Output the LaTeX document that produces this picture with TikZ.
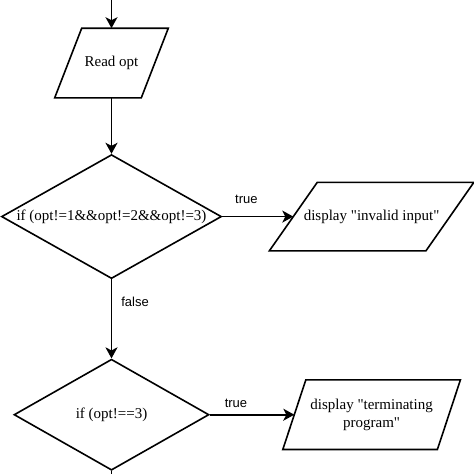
\documentclass[tikz,border=0pt]{standalone}
\usepackage{fontspec}
\setmainfont{Liberation Serif}[Ligatures=TeXOff]
\newfontfamily\lblfont{Liberation Sans}
\usetikzlibrary{arrows.meta,positioning,shapes.geometric}
\newcommand{\ioframe}[2]{\draw ([xshift=-#2/2]#1.south west) -- ([xshift=#2/2]#1.north west) -- ([xshift=#2/2]#1.north east) -- ([xshift=-#2/2]#1.south east) -- cycle;}

\begin{document}
\begin{tikzpicture}[x=1pt, y=1pt, line width=1.6pt]
\tikzset{io/.style={align=center, inner sep=0pt, font=\fontsize{15}{18}\selectfont},
  decision/.style={draw, diamond, aspect=1.77, inner sep=0pt, font=\fontsize{15}{18}\selectfont},
  flow/.style={-{Stealth[length=11pt, width=12pt, inset=3pt]}},
  lbl/.style={font=\lblfont\fontsize{13}{15}\selectfont, inner sep=2pt}}
\useasboundingbox (0,0) rectangle (474,-474);

\node[io, minimum width=85pt, minimum height=68pt] (read) at (111.5,-63) {Read opt};
\coordinate[above=29pt of read] (entry);
\node[decision, below=56pt of read, minimum width=220pt, minimum height=124pt] (check) {if (opt!=1\&\&opt!=2\&\&opt!=3)};
\node[io, right=71pt of check, minimum width=155pt, minimum height=67pt] (invalid) {display "invalid input"};
\node[decision, below=79pt of check, minimum width=195pt, minimum height=111pt] (quit) {if (opt!==3)};
\node[io, right=84.5pt of quit, minimum width=153pt, minimum height=68pt] (bye) {display "terminating\\ program"};
\coordinate[below=8pt of quit] (exit);

\ioframe{read}{27pt}
\ioframe{invalid}{48pt}
\ioframe{bye}{23pt}

\draw[flow] (entry) -- (read);
\draw[flow] (read) -- (check);
\draw[flow] (check.east) -- node[lbl, pos=0.34, above=10pt] {true} (invalid.west);
\draw[flow] (check) -- node[lbl, pos=0.29, right=7pt] {false} (quit);
\draw[flow] (quit.east) -- node[lbl, pos=0.31, above=4pt] {true} (bye.west);
\draw (quit) -- (exit);
\end{tikzpicture}
\end{document}
